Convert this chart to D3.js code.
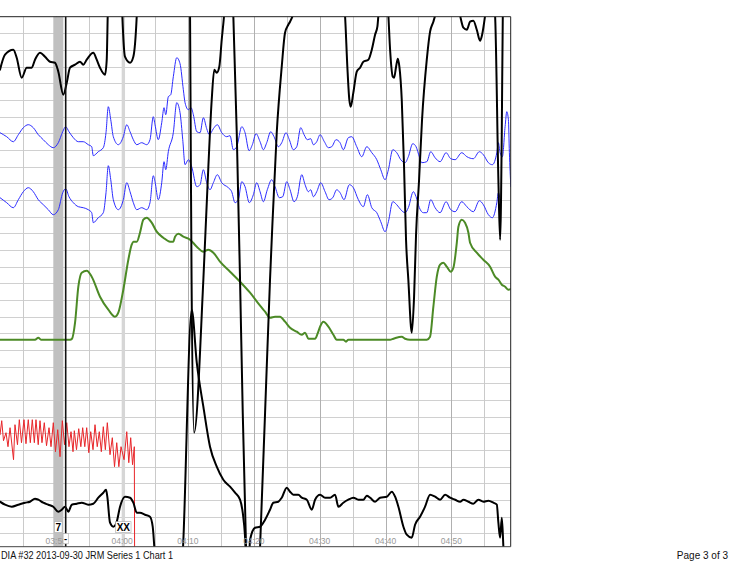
<!DOCTYPE html>
<html><head><meta charset="utf-8">
<script src="https://cdn.jsdelivr.net/npm/d3@7"></script>
<style>
html,body{margin:0;padding:0;background:#fff;}
svg{display:block;font-family:"Liberation Sans",Arial,Helvetica,sans-serif;}
</style>
</head><body>
<svg id="chart" width="730" height="564"></svg>
<script>
// ---- time axis (seconds after 03:40:00) ----
const tickTimes  = [10, 20, 30, 40, 50, 60, 70];
const tickLabels = ["03:50", "04:00", "04:10", "04:20", "04:30", "04:40", "04:50"];

// ---- upper black channel ----
const upperBlackTime = [1.47,2.23,3.49,4.00,4.76,5.52,6.28,6.78,7.54,8.30,
 9.06,9.82,10.32,11.08,11.60,12.10,12.86,13.61,14.11,14.63,
 15.63,16.15,16.65,17.41,17.67,17.82,18.17,18.93,19.69,20.04,
 20.44,21.21,21.71,22.23,22.72,26.52,30.01,30.32,30.43,30.55,
 30.93,32.34,33.10,33.61,34.00,34.37,34.76,35.13,35.48,36.16,
 36.89,37.41,37.91,38.32,38.82,39.12,39.89,40.64,40.95,41.71,
 42.46,42.72,43.48,44.24,44.74,45.24,45.50,45.91,49.75,53.85,
 54.20,54.50,54.72,55.11,55.63,56.13,56.63,57.39,57.91,58.41,
 58.76,58.91,59.63,60.43,60.69,61.10,61.30,61.60,61.86,62.10,
 62.46,62.81,63.11,63.46,63.98,64.33,64.63,65.09,65.54,66.26,
 66.76,67.26,67.52,69.34,71.32,71.82,72.34,72.83,73.33,73.85,
 74.35,74.66,75.11,75.87,76.63,77.13,77.39,77.65,77.80,78.30];
const upperBlackValue = [477,492,497,489,469,479,479,487,494,490,
 485,484,475,452,464,479,482,485,482,487,
 494,487,479,472,487,531,607,697,607,531,
 490,484,490,531,627,847,627,531,397,267,
 114,267,380,447,477,474,480,507,531,607,
 531,414,267,134,0,-53,-73,-53,0,134,
 267,307,414,480,514,522,525,531,747,531,
 480,447,440,454,475,479,485,487,497,512,
 520,531,587,531,497,470,469,480,488,480,
 447,380,307,267,214,250,312,367,427,487,
 515,525,531,607,531,519,517,525,526,517,
 506,512,531,577,531,367,307,417,531,597];

// ---- upper blue channel ----
const upperBlueTime = [1.47,2.48,3.49,4.25,5.01,5.76,6.52,7.28,8.04,8.80,
 9.56,10.32,10.99,11.44,11.94,12.60,13.36,14.11,14.87,15.39,
 15.63,16.39,17.15,17.56,17.91,18.28,18.67,19.43,20.19,20.71,
 21.21,21.71,22.23,22.98,23.74,24.24,24.74,25.00,25.50,26.02,
 26.37,26.63,27.02,27.39,27.78,28.30,28.80,29.30,29.56,30.06,
 30.47,30.82,31.34,31.84,32.34,32.85,33.25,33.86,34.46,35.13,
 35.89,36.39,36.89,37.41,38.17,38.67,39.28,39.78,40.34,40.95,
 41.45,41.96,42.57,43.07,43.73,44.24,44.89,45.39,46.00,46.52,
 47.12,47.63,48.13,48.64,49.04,49.55,50.06,50.71,51.32,51.83,
 52.49,53.09,53.59,54.35,54.87,55.63,56.39,57.15,57.91,58.67,
 59.27,59.93,60.43,61.10,61.70,62.31,62.96,63.46,64.13,64.63,
 65.13,65.49,66.26,66.86,67.52,68.28,69.19,69.90,70.56,71.57,
 72.34,73.33,74.24,74.85,75.61,76.22,76.89,77.13,77.39,77.74,
 78.15,78.41,78.65,78.80,79.02];
const upperBlueValue = [414,410,405,412,419,422,419,412,407,402,
 399,404,415,420,415,409,405,405,402,400,
 391,395,399,414,440,427,410,402,410,422,
 415,407,402,404,402,407,430,422,407,424,
 439,432,450,452,470,489,483,457,444,437,
 439,432,415,414,429,418,412,418,422,414,
 410,411,397,400,420,414,396,402,413,405,
 397,404,415,410,400,404,414,407,397,400,
 419,412,407,408,402,405,412,405,399,400,
 407,404,397,409,410,400,390,400,394,387,
 377,367,377,397,394,387,384,390,403,400,
 390,384,385,395,389,385,394,388,387,394,
 390,388,395,392,384,382,394,404,394,390,
 420,435,427,394,360];

// ---- lower blue channel ----
const lowerBlueTime = [1.47,2.48,3.49,4.25,5.01,5.76,6.52,7.28,8.04,8.80,
 9.56,10.32,10.99,11.44,11.94,12.60,13.36,14.11,14.87,15.39,
 15.63,16.39,17.15,17.56,17.91,18.28,18.67,19.43,20.19,20.71,
 21.21,21.71,22.23,22.98,23.74,24.24,24.74,25.00,25.50,26.02,
 26.37,26.63,27.02,27.78,28.30,28.80,29.21,29.56,30.06,30.57,
 31.34,31.84,32.34,32.85,33.35,33.86,34.46,35.13,36.13,36.64,
 37.15,37.65,38.17,38.67,39.32,39.93,40.44,40.95,41.45,42.05,
 42.72,43.22,43.88,44.39,45.00,45.50,46.11,46.61,47.28,47.78,
 48.29,48.64,49.04,49.55,50.16,50.82,51.42,51.98,52.59,53.09,
 53.70,54.50,55.11,55.87,56.63,57.24,57.91,58.67,59.27,59.93,
 60.43,61.10,61.70,62.31,62.96,63.46,64.22,64.63,65.13,65.74,
 66.26,66.86,67.52,68.28,69.19,69.90,70.56,71.57,72.34,73.33,
 74.24,74.85,75.61,76.22,76.89,77.13,77.39];
const lowerBlueValue = [349,344,339,347,355,359,355,347,342,337,
 332,337,354,358,350,344,340,339,337,334,
 324,329,334,354,381,367,347,337,347,364,
 355,344,337,339,337,344,371,365,347,364,
 385,377,395,414,444,434,407,382,387,380,
 360,362,377,364,357,364,372,364,359,355,
 344,347,365,360,344,352,364,355,345,357,
 367,360,349,350,365,357,345,350,372,362,
 355,357,350,355,364,355,347,349,357,354,
 347,362,359,347,340,352,339,334,325,315,
 325,345,342,337,334,339,355,350,339,334,
 334,347,339,334,345,337,335,345,340,335,
 346,342,332,329,344,354,347];

// ---- green channel ----
const greenTime = [1.47,6.78,7.28,7.69,12.10,12.40,12.86,13.36,13.87,14.63,
 15.39,16.65,17.91,18.93,19.43,20.19,20.95,21.46,21.71,22.23,
 22.72,23.23,23.74,24.50,25.26,26.26,27.28,27.78,28.04,28.54,
 29.30,30.32,31.34,32.34,33.10,33.86,34.87,36.39,37.91,39.43,
 40.95,41.71,42.46,43.22,43.98,44.74,45.50,46.52,47.28,47.78,
 48.29,49.30,49.68,50.06,50.56,51.32,52.08,52.59,53.59,54.00,
 54.35,60.69,61.19,62.46,62.96,63.72,66.26,66.76,67.26,67.78,
 68.28,68.78,69.29,69.90,70.30,70.82,71.06,71.57,72.07,72.58,
 72.83,73.85,74.85,75.87,76.63,77.13,77.65,78.15,78.65,79.16];
const greenValue = [207,207,209,207,207,208,224,260,274,276,
 270,250,237,230,234,257,287,302,305,305,
 314,327,329,324,315,309,305,305,310,313,
 310,307,300,295,297,294,285,275,265,254,
 241,235,229,230,230,225,219,215,212,214,
 208,208,213,220,225,220,212,207,207,205,
 207,207,208,210,208,207,207,210,240,270,
 282,284,280,275,279,304,320,327,324,314,
 304,294,287,280,270,267,262,260,257,258];

// ---- red channel ----
const redTime = [1.47,1.73,2.00,2.38,2.68,2.99,3.52,3.74,4.12,4.40,4.73,
 5.11,5.41,5.76,6.07,6.37,6.68,6.93,7.27,7.54,7.84,
 8.19,8.53,8.91,9.21,9.56,9.89,10.23,10.58,10.93,11.26,
 11.60,11.94,12.25,12.55,12.75,13.08,13.42,13.74,14.02,14.34,
 14.63,14.95,15.24,15.59,15.89,16.23,16.54,16.85,17.15,17.46,
 17.76,18.17,18.52,18.85,19.19,19.51,19.84,20.30,20.71,21.02,
 21.31,21.59,21.86,21.90,21.97];
const redValue = [112,126,106,114,100,119,87,122,102,127,104,
 127,103,127,104,127,104,127,102,126,104,
 124,101,119,100,124,95,117,90,126,102,
 124,100,115,95,116,97,118,100,119,100,
 119,94,115,97,122,100,115,95,120,97,
 124,92,109,80,104,80,100,87,115,84,
 109,82,100,0,-53];

// ---- lower black channel ----
const lowerBlackTime = [1.47,2.23,3.25,4.25,5.26,6.02,6.78,7.28,8.04,8.80,
 9.56,10.32,10.84,11.34,11.84,12.36,13.12,13.87,14.87,15.63,
 16.39,17.15,17.56,17.76,18.17,18.67,19.19,19.69,20.45,21.21,
 21.71,22.23,22.72,23.48,24.24,24.65,24.89,25.30,27.28,28.80,
 29.26,30.57,31.34,32.34,33.35,34.37,35.37,36.39,37.15,37.91,
 38.32,38.67,38.90,39.20,39.43,40.19,40.95,41.71,42.46,42.96,
 43.72,44.24,45.00,45.50,46.00,46.76,47.28,48.04,48.80,49.30,
 50.06,50.82,51.58,52.33,52.84,53.59,54.35,55.11,55.87,56.63,
 57.15,57.65,58.41,59.17,60.19,60.95,61.45,61.95,62.71,63.22,
 63.98,64.48,65.24,66.00,66.76,67.52,68.28,69.04,69.80,70.56,
 71.32,71.82,72.58,73.33,74.09,74.85,75.61,76.37,76.89,77.13,
 77.39,77.65,77.89,78.15];
const lowerBlackValue = [45,42,40,42,44,45,48,47,44,42,
 40,35,37,40,35,42,43,44,42,43,
 49,54,57,50,24,20,25,40,50,49,
 44,34,34,32,30,20,0,-53,-153,-53,
 0,237,184,140,100,80,67,60,54,47,
 34,10,-23,-23,7,19,20,27,37,44,
 45,49,59,55,52,52,49,47,37,47,
 52,49,49,52,40,44,47,49,47,47,
 51,49,45,49,50,55,50,40,20,12,
 9,22,30,40,52,50,47,52,49,47,
 45,47,45,43,47,45,46,44,42,24,
 9,29,0,-33];

// ---- event marks ----
const questionLabels = ["7"];
const questionOnset  = [9.56];
const questionOffset = [11.08];
const answerTimes    = [11.44];
const answerLabels   = ["-"];
const markLabels = ["XX"];
const markOnset  = [19.94];
const markOffset = [20.45];

const footerLeft  = "DIA #32 2013-09-30 JRM Series 1 Chart 1";
const footerRight = "Page 3 of 3";

// ================= drawing =================
const svg = d3.select("#chart");
const plot = {left: 0, right: 510.7, top: 16.7, bottom: 546.7};

const x = d3.scaleLinear().domain([1.467, 79.0]).range([plot.left, plot.right]);
const y = d3.scaleLinear().domain([0, 530]).range([plot.bottom, plot.top]);

svg.append("defs").append("clipPath").attr("id", "plotClip")
  .append("rect").attr("x", plot.left).attr("y", plot.top)
  .attr("width", plot.right - plot.left).attr("height", plot.bottom - plot.top);

// horizontal grid
const hVals = d3.range(1, 32).map(k => 530 - k * 530 / 31.8);
svg.append("g").selectAll("line").data(hVals).join("line")
  .attr("x1", plot.left).attr("x2", plot.right)
  .attr("y1", d => Math.round(y(d)) + 0.5).attr("y2", d => Math.round(y(d)) + 0.5)
  .attr("stroke", "#d0d0d0").attr("stroke-width", 1);

// vertical grid (5 s)
const vVals = d3.range(5, 79, 5);
svg.append("g").selectAll("line").data(vVals).join("line")
  .attr("x1", d => Math.round(x(d)) + 0.5).attr("x2", d => Math.round(x(d)) + 0.5)
  .attr("y1", plot.top).attr("y2", plot.bottom)
  .attr("stroke", d => d % 10 === 0 ? "#b0b0b0" : "#cacaca").attr("stroke-width", 1);

// event bands
const bands = svg.append("g");
questionOnset.forEach((t0, i) => {
  bands.append("rect").attr("x", x(t0)).attr("y", plot.top)
    .attr("width", x(questionOffset[i]) - x(t0)).attr("height", plot.bottom - plot.top)
    .attr("fill", "#c0c0c0");
});
markOnset.forEach((t0, i) => {
  bands.append("rect").attr("x", x(t0)).attr("y", plot.top)
    .attr("width", x(markOffset[i]) - x(t0)).attr("height", plot.bottom - plot.top)
    .attr("fill", "#d6d6d6");
});

// traces
const traces = svg.append("g").attr("clip-path", "url(#plotClip)");
function drawTrace(times, values, color, width, curve) {
  const pts = times.map((t, i) => [x(t), y(values[i])]);
  traces.append("path").attr("d", d3.line().curve(curve)(pts))
    .attr("fill", "none").attr("stroke", color).attr("stroke-width", width)
    .attr("stroke-linejoin", "round").attr("stroke-linecap", "round");
}
drawTrace(upperBlueTime, upperBlueValue, "#2b2bff", 1, d3.curveMonotoneX);
drawTrace(lowerBlueTime, lowerBlueValue, "#2b2bff", 1, d3.curveMonotoneX);
drawTrace(greenTime, greenValue, "#4c8a26", 2, d3.curveMonotoneX);
drawTrace(redTime, redValue, "#e8262a", 1, d3.curveLinear);
drawTrace(lowerBlackTime, lowerBlackValue, "#000", 2, d3.curveMonotoneX);
drawTrace(upperBlackTime, upperBlackValue, "#000", 2, d3.curveMonotoneX);

// answer lines
svg.append("g").selectAll("line").data(answerTimes).join("line")
  .attr("x1", d => x(d)).attr("x2", d => x(d))
  .attr("y1", plot.top).attr("y2", plot.bottom)
  .attr("stroke", "#111").attr("stroke-width", 1.6);

// borders
svg.append("line").attr("x1", plot.left).attr("x2", plot.right)
  .attr("y1", plot.top).attr("y2", plot.top).attr("stroke", "#222").attr("stroke-width", 1);
svg.append("line").attr("x1", plot.right).attr("x2", plot.right)
  .attr("y1", plot.top).attr("y2", plot.bottom).attr("stroke", "#222").attr("stroke-width", 1);
svg.append("line").attr("x1", plot.left).attr("x2", plot.right)
  .attr("y1", plot.bottom).attr("y2", plot.bottom).attr("stroke", "#444").attr("stroke-width", 1);

// time tick labels
svg.append("g").selectAll("text").data(tickTimes).join("text")
  .attr("x", d => x(d)).attr("y", 544)
  .attr("text-anchor", "middle").attr("font-size", 8.5).attr("fill", "#999")
  .text((d, i) => tickLabels[i]);

// label boxes
function labelBox(cx, top, label, fontSize, bold) {
  const g = svg.append("g");
  const r = g.append("rect");
  const t = g.append("text").attr("x", cx).attr("y", top + fontSize * 0.88)
    .attr("text-anchor", "middle").attr("font-size", fontSize)
    .attr("font-weight", bold ? "bold" : "normal").attr("fill", "#000").text(label);
  const w = t.node().getComputedTextLength() + 2;
  r.attr("x", cx - w / 2).attr("y", top).attr("width", w).attr("height", fontSize + 0.8)
    .attr("fill", "#fff").attr("stroke", "#aaa").attr("stroke-width", 0.6);
}
questionLabels.forEach((lab, i) =>
  labelBox(x((questionOnset[i] + questionOffset[i]) / 2), 521.7, lab, 10, true));
markLabels.forEach((lab, i) =>
  labelBox(x((markOnset[i] + markOffset[i]) / 2), 521.7, lab, 10, true));
answerLabels.forEach((lab, i) =>
  labelBox(x(answerTimes[i]), 533.5, lab, 9.5, true));

// footer
svg.append("text").attr("x", 1).attr("y", 558.5).attr("font-size", 10)
  .attr("textLength", 172).attr("lengthAdjust", "spacingAndGlyphs")
  .attr("fill", "#111").text(footerLeft);
svg.append("text").attr("x", 728).attr("y", 558.5).attr("font-size", 10)
  .attr("text-anchor", "end").attr("fill", "#111").text(footerRight);
</script>
</body></html>
